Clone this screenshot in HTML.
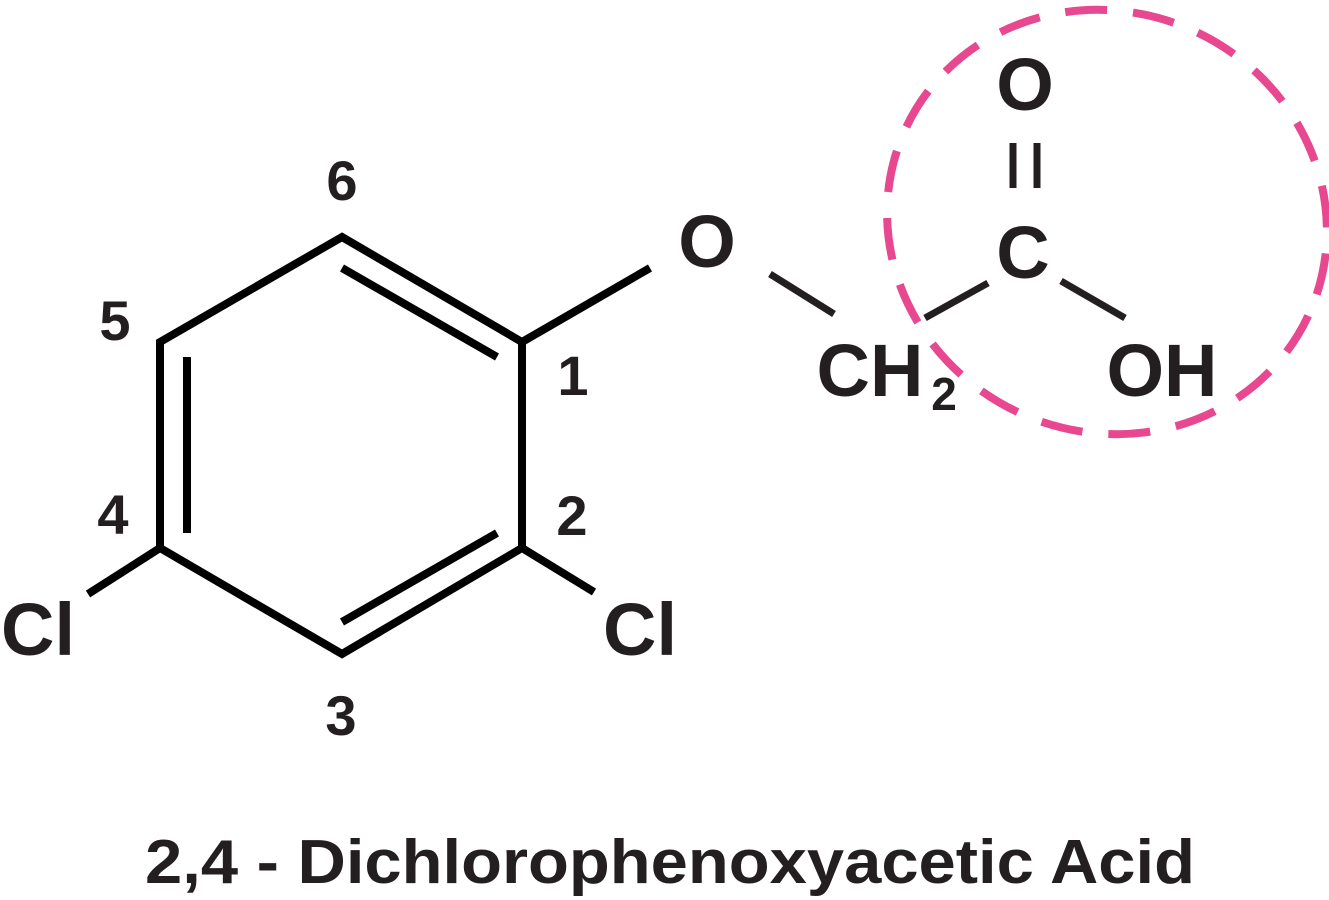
<!DOCTYPE html>
<html><head><style>body{margin:0;background:#fff}svg{display:block}</style></head><body>
<svg width="1329" height="900" viewBox="0 0 1329 900" xmlns="http://www.w3.org/2000/svg">
<g stroke="#000" stroke-width="8" fill="none" stroke-linecap="butt" stroke-linejoin="miter">
<polygon points="342,237 522,342 522,548 342,654 160,548 160,342"/>
<line x1="342" y1="268" x2="497" y2="357"/>
<line x1="187" y1="357" x2="187" y2="533"/>
<line x1="342" y1="622" x2="497" y2="533"/>
<line x1="522" y1="342" x2="650" y2="268"/>
<line x1="160" y1="548" x2="88" y2="594"/>
<line x1="522" y1="548" x2="594" y2="592"/>
</g>
<g stroke="#231f20" stroke-width="7" fill="none">
<line x1="770" y1="274" x2="834" y2="314"/>
<line x1="925" y1="318" x2="988" y2="283"/>
<line x1="1061" y1="281" x2="1125" y2="318"/>
<line x1="1013" y1="143" x2="1013" y2="188"/>
<line x1="1037" y1="143" x2="1037" y2="188"/>
</g>
<ellipse cx="1107" cy="222" rx="222" ry="210" transform="rotate(25 1107 222)" fill="none" stroke="#e8488f" stroke-width="8" stroke-dasharray="42 26"/>
<g font-family="Liberation Sans, sans-serif" font-weight="bold" fill="#231f20" text-anchor="middle">
<text x="342" y="200" font-size="56">6</text>
<text x="115" y="340" font-size="56">5</text>
<text x="573" y="395" font-size="56">1</text>
<text x="572" y="535" font-size="56">2</text>
<text x="113" y="534" font-size="56">4</text>
<text x="341" y="735" font-size="56">3</text>
<text x="38" y="655" font-size="74">Cl</text>
<text x="640" y="655" font-size="74">Cl</text>
<text x="707" y="267" font-size="74">O</text>
<text x="1023" y="278" font-size="74">C</text>
<text x="1025" y="110" font-size="74">O</text>
<text x="1162" y="396" font-size="74">OH</text>
<text x="870" y="396" font-size="74">CH</text>
<text x="944" y="410" font-size="46">2</text>
<text x="670" y="883" font-size="62" textLength="1050" lengthAdjust="spacingAndGlyphs">2,4 - Dichlorophenoxyacetic Acid</text>
</g>
</svg>
</body></html>
